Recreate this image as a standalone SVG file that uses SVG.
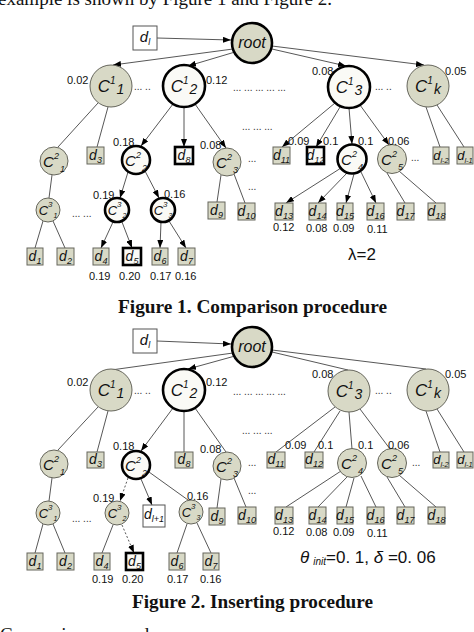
<svg xmlns="http://www.w3.org/2000/svg" width="474" height="632" viewBox="0 0 474 632">
<style>
text{font-family:"Liberation Sans",Arial,sans-serif;fill:#111}
.bg{fill:#d8d9c6;stroke:#66665c;stroke-width:1}
.th{fill:#fafaf6;stroke:#000;stroke-width:2.6}
.rt{fill:#d8d9c6;stroke:#000;stroke-width:2.6}
.wb{fill:#fff;stroke:#555;stroke-width:1}
.e line{stroke:#444;stroke-width:0.9;fill:none}
.e line.a{marker-end:url(#ah)}
.e line.dt{stroke-dasharray:2 2}
.n{font-size:11px}
.dots{font-size:10px;fill:#333}
.c1{font-size:17px;font-style:italic;text-anchor:middle}
.p1{font-size:10px}
.s1{font-size:14px}
.c2{font-size:15px;font-style:italic;text-anchor:middle}
.p2,.s2{font-size:9px}
.c3{font-size:13px;font-style:italic;text-anchor:middle}
.p3{font-size:8px}
.s3{font-size:7px}
.d{font-size:14px;font-style:italic;text-anchor:middle}
.ds{font-size:9px}
.dss{font-size:7.5px}
.rl{font-size:16px;font-style:italic;text-anchor:middle}
.cap{font-family:"Liberation Serif","Times New Roman",serif;font-weight:bold;font-size:19px}
.body{font-family:"Liberation Serif","Times New Roman",serif;font-size:19px}
</style>
<defs>
<marker id="ah" markerUnits="userSpaceOnUse" markerWidth="8" markerHeight="6" refX="8" refY="3" orient="auto"><path d="M0,0 L8,3 L0,6 z" fill="#000"/></marker>
</defs>
<rect width="474" height="632" fill="#fff"/>
<text class="body" x="-2" y="5">example is shown by Figure 1 and Figure 2.</text>
<text class="body" x="0" y="641">Comparison procedure:</text>

<g class="e" id="connectors">
<line class="a" x1="157" y1="38" x2="231" y2="40"/>
<line class="a" x1="233" y1="49" x2="113" y2="65"/>
<line class="a" x1="235" y1="52" x2="188" y2="66"/>
<line class="a" x1="272" y1="49" x2="346" y2="66"/>
<line class="a" x1="272" y1="46" x2="424" y2="65"/>
<line x1="98" y1="103" x2="58" y2="147"/>
<line x1="108" y1="107" x2="97" y2="147"/>
<line class="a" x1="173" y1="104" x2="141" y2="146"/>
<line class="a" x1="184" y1="107" x2="184" y2="147"/>
<line class="a" x1="195" y1="104" x2="226" y2="148"/>
<line class="a" x1="335" y1="103" x2="282" y2="147"/>
<line class="a" x1="340" y1="107" x2="316" y2="147"/>
<line class="a" x1="349" y1="108" x2="352" y2="144"/>
<line class="a" x1="360" y1="105" x2="389" y2="145"/>
<line x1="426" y1="107" x2="440" y2="147"/>
<line x1="437" y1="105" x2="464" y2="147"/>
<line x1="52" y1="175" x2="49" y2="198"/>
<line class="a" x1="128" y1="172" x2="120" y2="198"/>
<line class="a" x1="145" y1="171" x2="159" y2="198"/>
<line x1="221" y1="175" x2="217" y2="202"/>
<line x1="234" y1="174" x2="245" y2="203"/>
<line class="a" x1="341" y1="168" x2="286" y2="203"/>
<line class="a" x1="347" y1="173" x2="318" y2="203"/>
<line class="a" x1="354" y1="174" x2="346" y2="203"/>
<line class="a" x1="361" y1="172" x2="376" y2="203"/>
<line x1="387" y1="173" x2="405" y2="203"/>
<line x1="399" y1="171" x2="436" y2="203"/>
<line x1="43" y1="221" x2="35" y2="248"/>
<line x1="53" y1="221" x2="65" y2="248"/>
<line class="a" x1="113" y1="222" x2="101" y2="248"/>
<line class="a" x1="122" y1="222" x2="132" y2="248"/>
<line class="a" x1="161" y1="222" x2="160" y2="248"/>
<line class="a" x1="169" y1="221" x2="186" y2="248"/>

<line class="a" x1="157" y1="341" x2="231" y2="344"/>
<line x1="233" y1="353" x2="104" y2="371"/>
<line class="a" x1="235" y1="356" x2="188" y2="369"/>
<line x1="272" y1="352" x2="348" y2="370"/>
<line x1="272" y1="350" x2="426" y2="369"/>
<line x1="98" y1="407" x2="58" y2="450"/>
<line x1="108" y1="411" x2="97" y2="452"/>
<line class="a" x1="173" y1="408" x2="141" y2="451"/>
<line x1="184" y1="411" x2="184" y2="452"/>
<line x1="195" y1="408" x2="226" y2="452"/>
<line x1="335" y1="407" x2="276" y2="452"/>
<line x1="340" y1="411" x2="314" y2="452"/>
<line x1="349" y1="412" x2="352" y2="449"/>
<line x1="360" y1="409" x2="390" y2="449"/>
<line x1="426" y1="411" x2="440" y2="452"/>
<line x1="437" y1="409" x2="464" y2="452"/>
<line x1="52" y1="478" x2="49" y2="501"/>
<line class="a dt" x1="128" y1="478" x2="120" y2="501"/>
<line class="a" x1="141" y1="479" x2="152" y2="505"/>
<line x1="149" y1="472" x2="188" y2="500"/>
<line x1="221" y1="479" x2="217" y2="508"/>
<line x1="234" y1="478" x2="246" y2="507"/>
<line x1="341" y1="471" x2="286" y2="507"/>
<line x1="347" y1="477" x2="318" y2="507"/>
<line x1="354" y1="478" x2="346" y2="507"/>
<line x1="361" y1="476" x2="376" y2="507"/>
<line x1="387" y1="477" x2="405" y2="507"/>
<line x1="399" y1="475" x2="436" y2="507"/>
<line x1="43" y1="524" x2="35" y2="553"/>
<line x1="53" y1="524" x2="65" y2="553"/>
<line x1="113" y1="525" x2="102" y2="553"/>
<line class="a dt" x1="122" y1="525" x2="134" y2="553"/>
<line x1="187" y1="524" x2="177" y2="553"/>
<line x1="197" y1="523" x2="211" y2="553"/>
</g>

<!-- Figure 1 nodes -->
<g id="f1-dl"><rect class="wb" x="133" y="26" width="24" height="24"/><text class="d" style="font-size:15px" x="145" y="42">d<tspan class="ds" dy="3">l</tspan></text></g>
<g id="f1-root"><circle class="rt" cx="252" cy="43" r="20"/><text class="rl" x="252" y="48">root</text></g>
<g id="f1-c1-1"><circle class="bg" cx="111" cy="86" r="21"/><text class="c1" x="111" y="92">C<tspan class="p1" dy="-8">1</tspan><tspan class="s1" dx="1" dy="10">1</tspan></text></g>
<g id="f1-c1-2"><circle class="th" cx="184" cy="86" r="21"/><text class="c1" x="184" y="92">C<tspan class="p1" dy="-8">1</tspan><tspan class="s1" dx="1" dy="10">2</tspan></text></g>
<g id="f1-c1-3"><circle class="th" cx="349" cy="87" r="21"/><text class="c1" x="349" y="93">C<tspan class="p1" dy="-8">1</tspan><tspan class="s1" dx="1" dy="10">3</tspan></text></g>
<g id="f1-c1-k"><circle class="bg" cx="428" cy="86" r="21"/><text class="c1" x="428" y="92">C<tspan class="p1" dy="-8">1</tspan><tspan class="s1" dx="1" dy="10">k</tspan></text></g>
<g id="f1-c2-1"><circle class="bg" cx="54" cy="161" r="14"/><text class="c2" x="54" y="167">C<tspan class="p2" dy="-8">2</tspan><tspan class="s2" dx="1" dy="13">1</tspan></text></g>
<g id="f1-d3"><rect class="bg" x="87" y="147" width="17" height="17"/><text class="d" x="95.5" y="160">d<tspan class="ds" dy="3">3</tspan></text></g>
<g id="f1-c2-2"><circle class="th" cx="136" cy="160" r="14"/><text class="c2" x="136" y="166">C<tspan class="p2" dy="-8">2</tspan><tspan class="s2" dx="1" dy="13">2</tspan></text></g>
<g id="f1-d8"><rect class="th" x="175" y="147" width="18" height="17"/><text class="d" x="184" y="160">d<tspan class="ds" dy="3">8</tspan></text></g>
<g id="f1-c2-3"><circle class="bg" cx="227" cy="162" r="14"/><text class="c2" x="227" y="168">C<tspan class="p2" dy="-8">2</tspan><tspan class="s2" dx="1" dy="13">3</tspan></text></g>
<g id="f1-d11"><rect class="bg" x="273" y="147" width="17" height="17"/><text class="d" x="281.5" y="160">d<tspan class="ds" dy="3">11</tspan></text></g>
<g id="f1-d12"><rect class="th" x="307" y="147" width="17" height="17"/><text class="d" x="315.5" y="160">d<tspan class="ds" dy="3">12</tspan></text></g>
<g id="f1-c2-4"><circle class="th" cx="352" cy="159" r="14.5"/><text class="c2" x="352" y="165">C<tspan class="p2" dy="-8">2</tspan><tspan class="s2" dx="1" dy="13">4</tspan></text></g>
<g id="f1-c2-5"><circle class="bg" cx="392" cy="159" r="14.5"/><text class="c2" x="392" y="165">C<tspan class="p2" dy="-8">2</tspan><tspan class="s2" dx="1" dy="13">5</tspan></text></g>
<g id="f1-dl-2"><rect class="bg" x="433" y="147" width="16" height="17"/><text class="d" style="font-size:13px" x="441" y="160">d<tspan class="dss" dy="3">l-2</tspan></text></g>
<g id="f1-dl-1"><rect class="bg" x="457" y="147" width="16" height="17"/><text class="d" style="font-size:13px" x="465" y="160">d<tspan class="dss" dy="3">l-1</tspan></text></g>
<g id="f1-c3-1"><circle class="bg" cx="48" cy="210" r="12"/><text class="c3" x="48" y="215">C<tspan class="p3" dy="-8">3</tspan><tspan class="s3" dx="1" dy="11">1</tspan></text></g>
<g id="f1-c3-2"><circle class="th" cx="117" cy="210" r="12"/><text class="c3" x="117" y="215">C<tspan class="p3" dy="-8">3</tspan><tspan class="s3" dx="1" dy="11">2</tspan></text></g>
<g id="f1-c3-3"><circle class="th" cx="163" cy="210" r="12"/><text class="c3" x="163" y="215">C<tspan class="p3" dy="-8">3</tspan><tspan class="s3" dx="1" dy="11">3</tspan></text></g>
<g id="f1-d9"><rect class="bg" x="208" y="202" width="17" height="17"/><text class="d" x="216.5" y="215">d<tspan class="ds" dy="3">9</tspan></text></g>
<g id="f1-d10"><rect class="bg" x="238" y="203" width="17" height="17"/><text class="d" x="246.5" y="216">d<tspan class="ds" dy="3">10</tspan></text></g>
<g id="f1-d13"><rect class="bg" x="275" y="203" width="18" height="17"/><text class="d" x="284" y="216">d<tspan class="ds" dy="3">13</tspan></text></g>
<g id="f1-d14"><rect class="bg" x="309" y="203" width="17" height="17"/><text class="d" x="317.5" y="216">d<tspan class="ds" dy="3">14</tspan></text></g>
<g id="f1-d15"><rect class="bg" x="337" y="203" width="16" height="17"/><text class="d" x="345" y="216">d<tspan class="ds" dy="3">15</tspan></text></g>
<g id="f1-d16"><rect class="bg" x="367" y="203" width="17" height="17"/><text class="d" x="375.5" y="216">d<tspan class="ds" dy="3">16</tspan></text></g>
<g id="f1-d17"><rect class="bg" x="397" y="203" width="17" height="17"/><text class="d" x="405.5" y="216">d<tspan class="ds" dy="3">17</tspan></text></g>
<g id="f1-d18"><rect class="bg" x="428" y="203" width="17" height="17"/><text class="d" x="436.5" y="216">d<tspan class="ds" dy="3">18</tspan></text></g>
<g id="f1-d1"><rect class="bg" x="27" y="248" width="16" height="17"/><text class="d" x="35" y="261">d<tspan class="ds" dy="3">1</tspan></text></g>
<g id="f1-d2"><rect class="bg" x="57" y="248" width="17" height="17"/><text class="d" x="65.5" y="261">d<tspan class="ds" dy="3">2</tspan></text></g>
<g id="f1-d4"><rect class="bg" x="93" y="248" width="16" height="17"/><text class="d" x="101" y="261">d<tspan class="ds" dy="3">4</tspan></text></g>
<g id="f1-d5"><rect class="th" x="123" y="248" width="18" height="17"/><text class="d" x="132" y="261">d<tspan class="ds" dy="3">5</tspan></text></g>
<g id="f1-d6"><rect class="bg" x="152" y="248" width="16" height="17"/><text class="d" x="160" y="261">d<tspan class="ds" dy="3">6</tspan></text></g>
<g id="f1-d7"><rect class="bg" x="178" y="248" width="17" height="17"/><text class="d" x="186.5" y="261">d<tspan class="ds" dy="3">7</tspan></text></g>

<g id="f1-labels">
<text class="n" x="67" y="84">0.02</text>
<text class="n" x="206" y="84">0.12</text>
<text class="n" x="312" y="75">0.08</text>
<text class="n" x="445" y="75">0.05</text>
<text class="n" x="113" y="146">0.18</text>
<text class="n" x="200" y="149">0.08</text>
<text class="n" x="288" y="145">0.09</text>
<text class="n" x="323" y="145">0.1</text>
<text class="n" x="358" y="145">0.1</text>
<text class="n" x="388" y="145">0.06</text>
<text class="n" x="93" y="199">0.19</text>
<text class="n" x="164" y="198">0.16</text>
<text class="n" x="89" y="280">0.19</text>
<text class="n" x="119" y="280">0.20</text>
<text class="n" x="150" y="280">0.17</text>
<text class="n" x="175" y="280">0.16</text>
<text class="n" x="273" y="231">0.12</text>
<text class="n" x="306" y="232">0.08</text>
<text class="n" x="333" y="232">0.09</text>
<text class="n" x="367" y="233">0.11</text>
<text class="dots" x="134" y="90">... ..</text>
<text class="dots" x="233" y="91">... ... ... ... ...</text>
<text class="dots" x="375" y="90">... ..</text>
<text class="dots" x="242" y="130">... ... ...</text>
<text class="dots" x="248" y="162">...</text>
<text class="dots" x="248" y="190">...</text>
<text class="dots" x="72" y="217">... ...</text>
<text class="dots" x="411" y="161">...</text>
<text x="348" y="260" style="font-size:17px">λ=2</text>
<text class="cap" x="118" y="313" textLength="269" lengthAdjust="spacingAndGlyphs">Figure 1. Comparison procedure</text>
</g>

<!-- Figure 2 nodes -->
<g id="f2-dl"><rect class="wb" x="133" y="329" width="24" height="24"/><text class="d" style="font-size:15px" x="145" y="345">d<tspan class="ds" dy="3">l</tspan></text></g>
<g id="f2-root"><circle class="rt" cx="252" cy="347" r="20"/><text class="rl" x="252" y="352">root</text></g>
<g id="f2-c1-1"><circle class="bg" cx="111" cy="390" r="21"/><text class="c1" x="111" y="396">C<tspan class="p1" dy="-8">1</tspan><tspan class="s1" dx="1" dy="10">1</tspan></text></g>
<g id="f2-c1-2"><circle class="th" cx="184" cy="390" r="21"/><text class="c1" x="184" y="396">C<tspan class="p1" dy="-8">1</tspan><tspan class="s1" dx="1" dy="10">2</tspan></text></g>
<g id="f2-c1-3"><circle class="bg" cx="349" cy="391" r="21"/><text class="c1" x="349" y="397">C<tspan class="p1" dy="-8">1</tspan><tspan class="s1" dx="1" dy="10">3</tspan></text></g>
<g id="f2-c1-k"><circle class="bg" cx="428" cy="390" r="21"/><text class="c1" x="428" y="396">C<tspan class="p1" dy="-8">1</tspan><tspan class="s1" dx="1" dy="10">k</tspan></text></g>
<g id="f2-c2-1"><circle class="bg" cx="54" cy="464" r="14"/><text class="c2" x="54" y="470">C<tspan class="p2" dy="-8">2</tspan><tspan class="s2" dx="1" dy="13">1</tspan></text></g>
<g id="f2-d3"><rect class="bg" x="87" y="452" width="17" height="16"/><text class="d" x="95.5" y="464">d<tspan class="ds" dy="3">3</tspan></text></g>
<g id="f2-c2-2"><circle class="th" cx="136" cy="465" r="14"/><text class="c2" x="136" y="471">C<tspan class="p2" dy="-8">2</tspan><tspan class="s2" dx="1" dy="13">2</tspan></text></g>
<g id="f2-d8"><rect class="bg" x="175" y="452" width="18" height="16"/><text class="d" x="184" y="464">d<tspan class="ds" dy="3">8</tspan></text></g>
<g id="f2-c2-3"><circle class="bg" cx="227" cy="466" r="14"/><text class="c2" x="227" y="472">C<tspan class="p2" dy="-8">2</tspan><tspan class="s2" dx="1" dy="13">3</tspan></text></g>
<g id="f2-d11"><rect class="bg" x="267" y="452" width="18" height="16"/><text class="d" x="276" y="464">d<tspan class="ds" dy="3">11</tspan></text></g>
<g id="f2-d12"><rect class="bg" x="305" y="452" width="18" height="16"/><text class="d" x="314" y="464">d<tspan class="ds" dy="3">12</tspan></text></g>
<g id="f2-c2-4"><circle class="bg" cx="352" cy="463" r="14.5"/><text class="c2" x="352" y="469">C<tspan class="p2" dy="-8">2</tspan><tspan class="s2" dx="1" dy="13">4</tspan></text></g>
<g id="f2-c2-5"><circle class="bg" cx="392" cy="463" r="14.5"/><text class="c2" x="392" y="469">C<tspan class="p2" dy="-8">2</tspan><tspan class="s2" dx="1" dy="13">5</tspan></text></g>
<g id="f2-dl-2"><rect class="bg" x="433" y="452" width="16" height="16"/><text class="d" style="font-size:13px" x="441" y="464">d<tspan class="dss" dy="3">l-2</tspan></text></g>
<g id="f2-dl-1"><rect class="bg" x="457" y="452" width="16" height="16"/><text class="d" style="font-size:13px" x="465" y="464">d<tspan class="dss" dy="3">l-1</tspan></text></g>
<g id="f2-c3-1"><circle class="bg" cx="48" cy="513" r="12"/><text class="c3" x="48" y="518">C<tspan class="p3" dy="-8">3</tspan><tspan class="s3" dx="1" dy="11">1</tspan></text></g>
<g id="f2-c3-2"><circle class="bg" cx="117" cy="513" r="12"/><text class="c3" x="117" y="518">C<tspan class="p3" dy="-8">3</tspan><tspan class="s3" dx="1" dy="11">2</tspan></text></g>
<g id="f2-dl+1"><rect class="wb" x="143" y="505" width="22" height="22"/><text class="d" style="font-size:14px" x="154" y="519">d<tspan class="ds" dy="3">l+1</tspan></text></g>
<g id="f2-c3-3"><circle class="bg" cx="191" cy="512" r="12"/><text class="c3" x="191" y="517">C<tspan class="p3" dy="-8">3</tspan><tspan class="s3" dx="1" dy="11">3</tspan></text></g>
<g id="f2-d9"><rect class="bg" x="209" y="508" width="16" height="17"/><text class="d" x="217" y="521">d<tspan class="ds" dy="3">9</tspan></text></g>
<g id="f2-d10"><rect class="bg" x="238" y="507" width="18" height="17"/><text class="d" x="247" y="520">d<tspan class="ds" dy="3">10</tspan></text></g>
<g id="f2-d13"><rect class="bg" x="275" y="507" width="18" height="17"/><text class="d" x="284" y="520">d<tspan class="ds" dy="3">13</tspan></text></g>
<g id="f2-d14"><rect class="bg" x="309" y="507" width="17" height="17"/><text class="d" x="317.5" y="520">d<tspan class="ds" dy="3">14</tspan></text></g>
<g id="f2-d15"><rect class="bg" x="337" y="507" width="16" height="17"/><text class="d" x="345" y="520">d<tspan class="ds" dy="3">15</tspan></text></g>
<g id="f2-d16"><rect class="bg" x="367" y="507" width="17" height="17"/><text class="d" x="375.5" y="520">d<tspan class="ds" dy="3">16</tspan></text></g>
<g id="f2-d17"><rect class="bg" x="397" y="507" width="17" height="17"/><text class="d" x="405.5" y="520">d<tspan class="ds" dy="3">17</tspan></text></g>
<g id="f2-d18"><rect class="bg" x="428" y="507" width="17" height="17"/><text class="d" x="436.5" y="520">d<tspan class="ds" dy="3">18</tspan></text></g>
<g id="f2-d1"><rect class="bg" x="27" y="553" width="16" height="17"/><text class="d" x="35" y="566">d<tspan class="ds" dy="3">1</tspan></text></g>
<g id="f2-d2"><rect class="bg" x="57" y="553" width="17" height="17"/><text class="d" x="65.5" y="566">d<tspan class="ds" dy="3">2</tspan></text></g>
<g id="f2-d4"><rect class="bg" x="94" y="553" width="16" height="17"/><text class="d" x="102" y="566">d<tspan class="ds" dy="3">4</tspan></text></g>
<g id="f2-d5"><rect class="th" x="126" y="553" width="17" height="17"/><text class="d" x="134.5" y="566">d<tspan class="ds" dy="3">5</tspan></text></g>
<g id="f2-d6"><rect class="bg" x="169" y="553" width="16" height="17"/><text class="d" x="177" y="566">d<tspan class="ds" dy="3">6</tspan></text></g>
<g id="f2-d7"><rect class="bg" x="203" y="553" width="16" height="17"/><text class="d" x="211" y="566">d<tspan class="ds" dy="3">7</tspan></text></g>

<g id="f2-labels">
<text class="n" x="67" y="386">0.02</text>
<text class="n" x="206" y="386">0.12</text>
<text class="n" x="312" y="378">0.08</text>
<text class="n" x="445" y="378">0.05</text>
<text class="n" x="113" y="450">0.18</text>
<text class="n" x="200" y="453">0.08</text>
<text class="n" x="285" y="449">0.09</text>
<text class="n" x="318" y="449">0.1</text>
<text class="n" x="358" y="449">0.1</text>
<text class="n" x="388" y="449">0.06</text>
<text class="n" x="93" y="502">0.19</text>
<text class="n" x="187" y="500">0.16</text>
<text class="n" x="92" y="583">0.19</text>
<text class="n" x="122" y="583">0.20</text>
<text class="n" x="167" y="583">0.17</text>
<text class="n" x="200" y="583">0.16</text>
<text class="n" x="273" y="535">0.12</text>
<text class="n" x="306" y="536">0.08</text>
<text class="n" x="333" y="536">0.09</text>
<text class="n" x="367" y="537">0.11</text>
<text class="dots" x="134" y="394">... ..</text>
<text class="dots" x="233" y="395">... ... ... ... ...</text>
<text class="dots" x="375" y="394">... ..</text>
<text class="dots" x="242" y="434">... ... ...</text>
<text class="dots" x="248" y="466">...</text>
<text class="dots" x="248" y="494">...</text>
<text class="dots" x="72" y="522">... ...</text>
<text class="dots" x="412" y="466">...</text>
<text x="300" y="563" style="font-size:17px"><tspan font-style="italic">θ</tspan><tspan font-style="italic" style="font-size:10px" dx="4" dy="2">init</tspan><tspan dy="-2">=0. 1, </tspan><tspan font-style="italic">δ</tspan> =0. 06</text>
<text class="cap" x="132" y="608" textLength="241" lengthAdjust="spacingAndGlyphs">Figure 2. Inserting procedure</text>
</g>
</svg>
